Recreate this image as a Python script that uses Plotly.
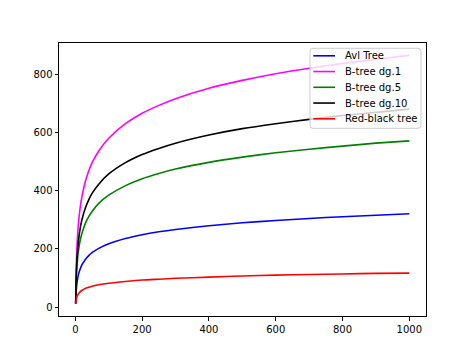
import plotly.graph_objects as go

n_values = [1, 2, 3, 4, 5, 7, 10, 15, 20, 30, 40, 50, 70, 100, 150, 200, 250, 300,
            400, 500, 600, 700, 800, 900, 1000]

avl_tree = [12, 43, 61, 74, 84, 99, 115, 133, 146, 164, 177, 187, 202, 218, 236, 249,
            259, 267, 280, 290, 298, 305, 311, 316, 321]
btree_dg1 = [12, 98, 148, 183, 211, 253, 297, 347, 382, 432, 468, 496, 537, 581, 631,
             667, 694, 717, 753, 780, 803, 822, 838, 853, 866]
btree_dg5 = [12, 68, 101, 124, 142, 170, 199, 232, 255, 288, 311, 329, 357, 385, 418,
             442, 460, 475, 498, 516, 531, 543, 554, 564, 572]
btree_dg10 = [12, 79, 118, 146, 168, 200, 235, 274, 302, 341, 369, 391, 423, 458, 497,
              525, 546, 564, 592, 614, 631, 646, 659, 670, 681]
red_black = [12, 23, 29, 33, 37, 42, 47, 53, 58, 64, 68, 72, 77, 82, 88, 93, 96, 99,
             103, 107, 110, 112, 114, 116, 117]

series_names = ["Avl Tree", "B-tree dg.1", "B-tree dg.5", "B-tree dg.10", "Red-black tree"]
series_values = [avl_tree, btree_dg1, btree_dg5, btree_dg10, red_black]
series_colors = ["blue", "magenta", "green", "black", "red"]

x_ticks = [0, 200, 400, 600, 800, 1000]
y_ticks = [0, 200, 400, 600, 800]

W, H = 474, 355
ML, MR, MT, MB = 59, 48, 43, 39
PW, PH = W - ML - MR, H - MT - MB


def px(xp):
    return (xp - ML) / PW


def py(yp):
    return (H - MB - yp) / PH


fig = go.Figure()
for name, vals, color in zip(series_names, series_values, series_colors):
    fig.add_trace(go.Scatter(x=n_values, y=vals, mode="lines", name=name,
                             line=dict(color=color, width=1.6, shape="spline", smoothing=0.6),
                             showlegend=False))

axis_common = dict(showgrid=False, zeroline=False, showline=True, linecolor="black",
                   linewidth=1, mirror=True, ticks="outside", ticklen=3.5, tickwidth=1,
                   tickcolor="black", tickfont=dict(family="DejaVu Sans", size=10, color="black"))

ymin = min(min(v) for v in series_values)
ymax = max(max(v) for v in series_values)
pad = 0.05 * (ymax - ymin)
xpad = 0.05 * (max(n_values) - min(n_values))

fig.update_xaxes(range=[min(n_values) - xpad, max(n_values) + xpad], tickvals=x_ticks, **axis_common)
fig.update_yaxes(range=[ymin - pad, ymax + pad], tickvals=y_ticks, **axis_common)

# Matplotlib-style legend box (drawn with shapes + annotations)
bx0, bx1, by0, by1, r = 310, 421, 48.3, 128.3, 3
path = (f"M {px(bx0 + r)},{py(by0)} L {px(bx1 - r)},{py(by0)} "
        f"Q {px(bx1)},{py(by0)} {px(bx1)},{py(by0 + r)} "
        f"L {px(bx1)},{py(by1 - r)} Q {px(bx1)},{py(by1)} {px(bx1 - r)},{py(by1)} "
        f"L {px(bx0 + r)},{py(by1)} Q {px(bx0)},{py(by1)} {px(bx0)},{py(by1 - r)} "
        f"L {px(bx0)},{py(by0 + r)} Q {px(bx0)},{py(by0)} {px(bx0 + r)},{py(by0)} Z")
shapes = [dict(type="path", path=path, xref="paper", yref="paper",
               fillcolor="rgba(255,255,255,0.8)", line=dict(color="#cccccc", width=1),
               layer="above")]
annotations = []
row0, row_step = 55.8, 15.75
for i, (name, color) in enumerate(zip(series_names, series_colors)):
    yy = row0 + i * row_step
    shapes.append(dict(type="line", xref="paper", yref="paper",
                       x0=px(313.3), x1=px(335), y0=py(yy), y1=py(yy),
                       line=dict(color=color, width=1.6), layer="above"))
    annotations.append(dict(text=name, xref="paper", yref="paper", x=px(342.5), y=py(yy),
                            xanchor="left", yanchor="middle", showarrow=False,
                            font=dict(family="DejaVu Sans", size=10, color="black")))

fig.update_layout(
    width=W, height=H,
    margin=dict(l=ML, r=MR, t=MT, b=MB),
    paper_bgcolor="white", plot_bgcolor="white",
    font=dict(family="DejaVu Sans", size=10, color="black"),
    shapes=shapes, annotations=annotations,
    showlegend=False,
)

fig.write_html("out.html")
